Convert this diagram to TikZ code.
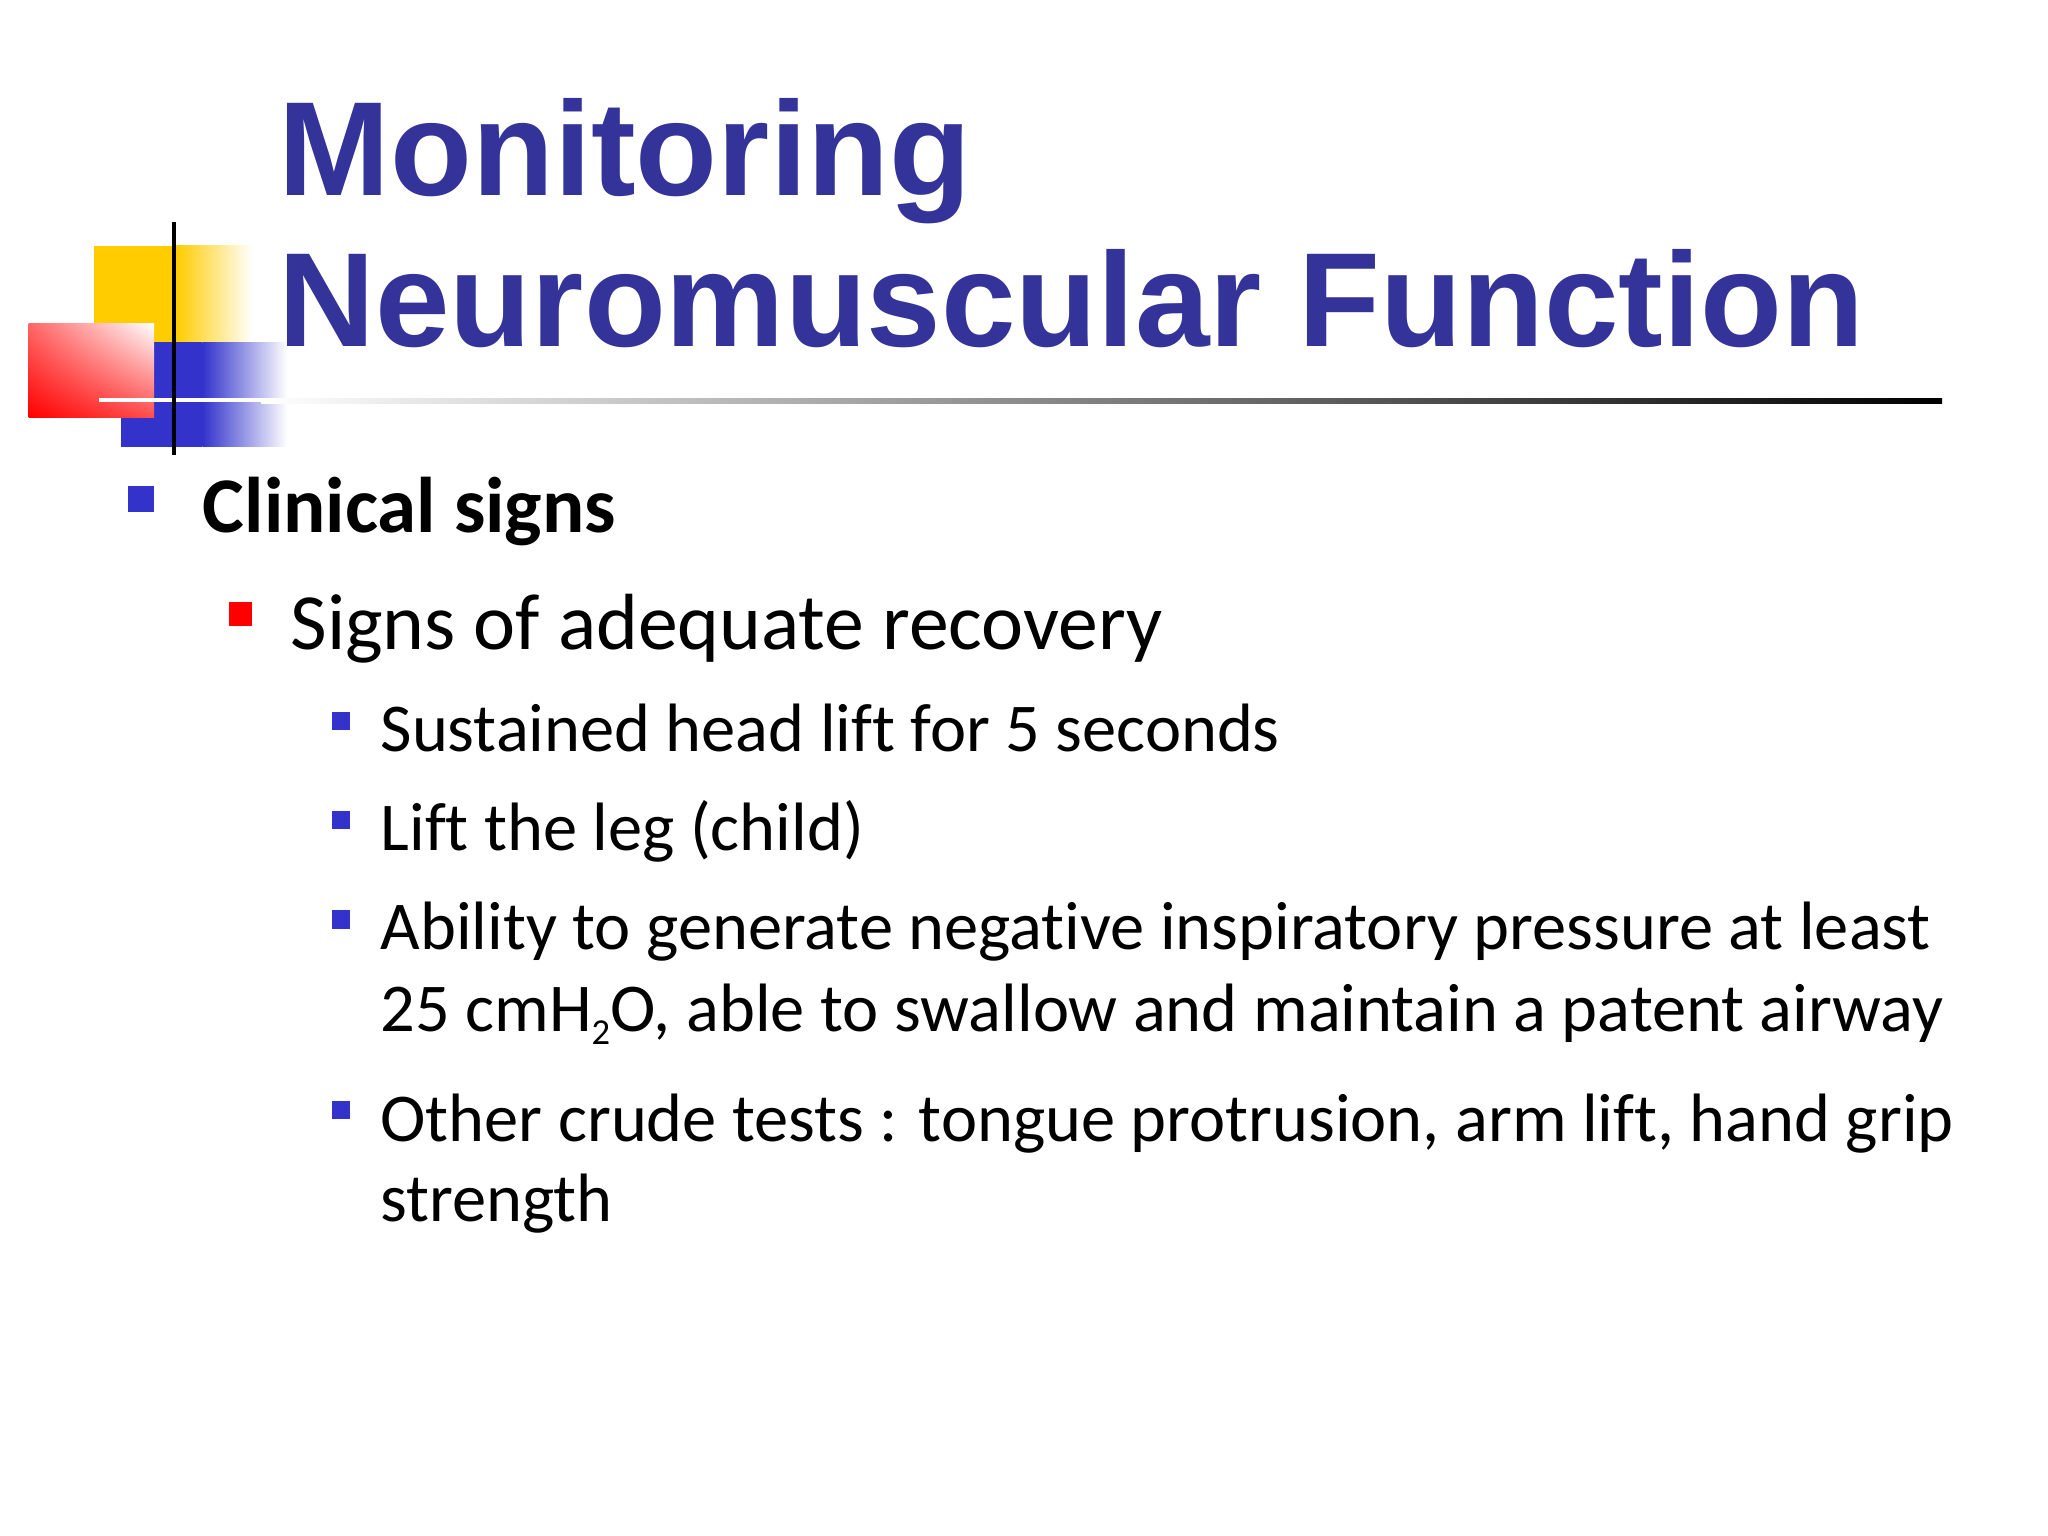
\documentclass[tikz,border=0pt]{standalone}
\usepackage{fontspec}
\usetikzlibrary{shadings}
\setmainfont{Carlito}[Ligatures=NoCommon]
\newfontfamily\titlefont{Liberation Sans}
\definecolor{tblue}{HTML}{333399}
\definecolor{bblue}{HTML}{3333CC}
\definecolor{ylw}{HTML}{FFCC00}
\begin{document}
\begin{tikzpicture}[x=0.5pt,y=-0.5pt,
  ttl/.style={anchor=base west,inner sep=0,text=tblue,font=\titlefont\bfseries\fontsize{51.3}{51.3}\selectfont},
  lone/.style={anchor=base west,inner sep=0,font=\bfseries\fontsize{30.2}{30.2}\selectfont},
  ltwo/.style={anchor=base west,inner sep=0,font=\fontsize{30.5}{30.5}\selectfont},
  lthree/.style={anchor=base west,inner sep=0,font=\fontsize{26.2}{26.2}\selectfont}]
\fill[white] (0,0) rectangle (1568,1176);
% decoration
\fill[ylw] (72,188) rectangle (135,262);
\shade[left color=ylw,right color=white] (135,188) rectangle (193,262);
\fill[bblue] (93,262) rectangle (155,342);
\shade[left color=bblue,right color=white] (155,262) rectangle (220,342);
\shade[lower left=red,upper right=white,lower right=red!70!white,upper left=red!60!white] (22,248) rectangle (118,320);
\draw[white,line width=1.5pt] (76,306) -- (200,306);
\shade[left color=white,right color=black] (200,305) rectangle (1487,309);
\draw[black,line width=1.5pt] (133,170) -- (133,348);
% title
\node[ttl] (t1) at (213,150) {Monitoring};
\node[ttl] (t2) at (213,265) {Neuromuscular Function};
% bullets
\fill[bblue] (98,372) rectangle (118,392);
\node[lone] (a) at (155,408) {Clinical signs};
\fill[red] (175,461) rectangle (193,479);
\node[ltwo] (b) at (222,497) {Signs of adequate recovery};
\foreach \y in {545,621,697,843} \fill[bblue] (254,\y) rectangle (268,\y+14);
\node[lthree] (c1) at (291,575) {Sustained head lift for 5 seconds};
\node[lthree] (c2) at (291,651) {Lift the leg (child)};
\node[lthree] (c3) at (291,727) {Ability to generate negative inspiratory pressure at least};
\node[lthree] (c4) at (291,790) {25 cmH\raisebox{-0.4ex}{\fontsize{14}{14}\selectfont 2}O, able to swallow and maintain a patent airway};
\node[lthree] (c5) at (291,874) {Other crude tests : tongue protrusion, arm lift, hand grip};
\node[lthree] (c6) at (291,935) {strength};
\end{tikzpicture}
\end{document}
